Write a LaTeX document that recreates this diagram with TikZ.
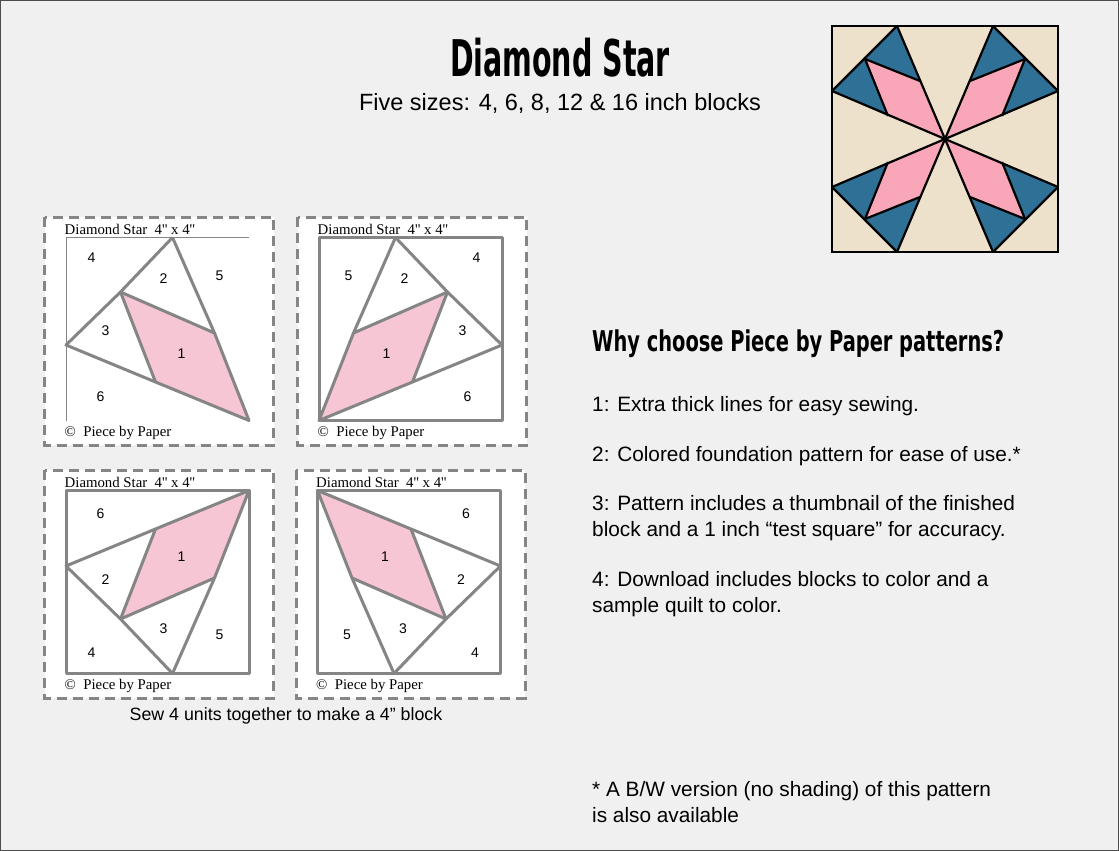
\documentclass[tikz,border=0pt]{standalone}
\usepackage{fontspec}
\setmainfont{Liberation Sans}
\newfontfamily\serifface{Liberation Serif}
\newfontfamily\titleface{DejaVu Sans Condensed Bold}
\definecolor{pagegray}{HTML}{F0F0F0}
\definecolor{seamgray}{HTML}{858585}
\definecolor{unitpink}{HTML}{F7C6D4}
\definecolor{starbeige}{HTML}{EEE1CC}
\definecolor{starblue}{HTML}{2F7096}
\definecolor{starpink}{HTML}{F9A7B8}
\tikzset{
  seam/.style={draw=seamgray, line width=3pt, line join=round},
  cutline/.style={draw=seamgray, fill=white, line width=3pt, dash pattern=on 10pt off 6pt},
  piecenum/.style={font=\fontsize{14}{14}\selectfont},
  unitlabel/.style={anchor=west, inner sep=0pt, font=\serifface\fontsize{14.8}{15}\selectfont},
  bodytext/.style={anchor=west, align=left, inner sep=0pt, font=\fontsize{20.8}{25.5}\selectfont},
  starline/.style={draw=black, line width=2.2pt, line join=round}
}
% one foundation unit: #1 center, #2 xscale, #3 yscale, #4 outer square drawn (1) or thin (0),
% #5 and #6 places of pieces 2 and 3
\newcommand\foundunit[6]{%
  \draw[cutline] ($(#1)+(-113,-112)$) rectangle ($(#1)+(116,116)$);
  \node[unitlabel] at ($(#1)+(-93,-100)$) {Diamond Star\ \ 4'' x 4''};
  \node[unitlabel] at ($(#1)+(-93,104)$) {\copyright\ \ Piece by Paper};
  \begin{scope}[shift={(#1)}, xscale=#2, yscale=#3]
    \coordinate (apex) at (15,-91.5);
    \coordinate (dA) at (-37,-37);
    \coordinate (side) at (-91.5,16);
    \coordinate (dB) at (57,4);
    \coordinate (tip) at (91.5,91.5);
    \coordinate (dC) at (-2,53);
    \fill[unitpink] (dA) -- (dB) -- (tip) -- (dC) -- cycle;
    \ifnum#4=1
      \draw[seam] (-91.5,-91.5) rectangle (91.5,91.5);
    \else
      \draw[seamgray, line width=0.8pt] (91.5,-91.5) -- (-91.5,-91.5) -- (-91.5,91.5);
    \fi
    \draw[seam] (apex) -- (dA) -- (side) -- (dC) -- (tip) -- (dB) -- (apex);
    \draw[seam] (dA) -- (dB);
    \draw[seam] (dA) -- (dC);
    \node[piecenum] at (24,25) {1};
    \node[piecenum] at (#5) {2};
    \node[piecenum] at (#6) {3};
    \node[piecenum] at (-66,-71) {4};
    \node[piecenum] at (62,-53) {5};
    \node[piecenum] at (-57,68) {6};
  \end{scope}}
\usetikzlibrary{calc}
\begin{document}
\begin{tikzpicture}[x=1pt, y=-1pt]
  % page
  \fill[pagegray] (0,0) rectangle (1119,851);
  \useasboundingbox (0,0) rectangle (1119,851);
  \draw[black!70, line width=1.2pt] (0.6,0.6) rectangle (1118.4,850.4);
  % headings
  \node (title) at (560,58) {\titleface\fontsize{44}{44}\selectfont\scalebox{0.72}[1.15]{Diamond Star}};
  \node (sizes) at (560,103) {\fontsize{23.5}{24}\selectfont Five sizes: 4, 6, 8, 12 \& 16 inch blocks};
  % thumbnail of the finished block
  \begin{scope}[shift={(945,139)}]
    \fill[starbeige] (-113,-113) rectangle (113,113);
    \foreach \sx/\sy in {1/1, -1/1, 1/-1, -1/-1} {
      \begin{scope}[xscale=\sx, yscale=\sy]
        \fill[starblue] (-48,-113) -- (-80,-80) -- (-25,-58) -- cycle;
        \fill[starblue] (-113,-48) -- (-80,-80) -- (-57,-23) -- cycle;
        \fill[starpink] (0,0) -- (-57,-23) -- (-80,-80) -- (-25,-58) -- cycle;
        \draw[starline] (0,0) -- (-48,-113);
        \draw[starline] (0,0) -- (-113,-48);
        \draw[starline] (-48,-113) -- (-113,-48);
        \draw[starline] (-57,-23) -- (-80,-80) -- (-25,-58);
      \end{scope}
    }
    \draw[black, line width=2.6pt] (-113,-113) rectangle (113,113);
  \end{scope}
  % the four units
  \foundunit{157.5,329}{1}{1}{0}{6,-50}{-52,2}
  \foundunit{410.5,329}{-1}{1}{1}{6,-50}{-52,2}
  \foundunit{157.5,582}{1}{-1}{1}{-52,2}{6,-47}
  \foundunit{409,582}{-1}{-1}{1}{-52,2}{6,-47}
  \node (sew) at (286,716) {\fontsize{17.8}{18}\selectfont Sew 4 units together to make a 4'' block};
  % reasons
  \node[anchor=west, inner sep=0pt] (why) at (592,344) {\titleface\fontsize{26}{26}\selectfont\scalebox{0.83}[1.1]{Why choose Piece by Paper patterns?}};
  \node[bodytext] (r1) at (592,406) {1: Extra thick lines for easy sewing.};
  \node[bodytext] (r2) at (592,456) {2: Colored foundation pattern for ease of use.*};
  \node[bodytext] (r3) at (592,518) {3: Pattern includes a thumbnail of the finished\\block and a 1 inch ``test square'' for accuracy.};
  \node[bodytext] (r4) at (592,594) {4: Download includes blocks to color and a\\sample quilt to color.};
  \node[bodytext] (note) at (592,802) {* A B/W version (no shading) of this pattern\\is also available};
\end{tikzpicture}
\end{document}
